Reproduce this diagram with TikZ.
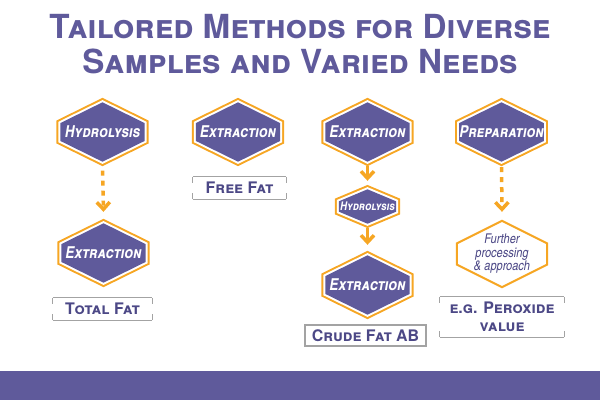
\documentclass[tikz,border=0pt]{standalone}
\usepackage{fontspec}
\setmainfont{TeX Gyre Heros}
\newfontfamily\cnfont{texgyreheroscn}[Extension=.otf, UprightFont=*-regular, BoldFont=*-bold, ItalicFont=*-italic, BoldItalicFont=*-bolditalic]
\usetikzlibrary{positioning,calc,arrows.meta,backgrounds}

\definecolor{methpurple}{HTML}{5F5A9B}
\definecolor{methorange}{HTML}{F6A623}
\definecolor{tagpurple}{HTML}{4C4886}
\definecolor{taggray}{HTML}{A3A3A3}

\begin{document}
\begin{tikzpicture}[x=1bp, y=-1bp]
	\useasboundingbox (0,0) rectangle (600,400);
	\fill[methpurple] (0,371) rectangle (600,400);
	\begin{scope}
		\tikzstyle{every node}=[align=center, inner sep=0pt]
		\tikzstyle{method}=[minimum width=84bp, minimum height=59bp, text=white, font=\cnfont\bfseries\itshape\scshape\fontsize{16.5}{16.5}\selectfont]
		\tikzstyle{tag}=[text=tagpurple, font=\bfseries\scshape\fontsize{16}{18}\selectfont]
		\tikzstyle{hexfill}=[fill=methpurple, preaction={draw=methorange, line width=8bp}, preaction={draw=white, line width=4bp}]
		\tikzstyle{hexline}=[fill=white, draw=methorange, line width=2bp]
		\tikzstyle{tagline}=[draw=taggray, line width=1.2bp]
		\tikzstyle{flow}=[methorange, line width=3.5bp, -{Straight Barb[length=7bp, width=13bp]}]

		% title
		\node[anchor=base, text=methpurple, font=\bfseries\scshape\fontsize{33.3}{33.3}\selectfont] (title1) at (300, 38) {Tailored Methods for Diverse};
		\node[anchor=base, text=methpurple, font=\bfseries\scshape\fontsize{33.3}{33.3}\selectfont] (title2) at (300, 73) {Samples and Varied Needs};

		% column 1
		\node[method] (hyd1) at (102.5, 132) {Hydrolysis};
		\node[method] (ext1) at (103.5, 253) {Extraction};
		\node[tag, minimum width=99bp, minimum height=22bp] (total) at (102.5, 309) {Total Fat};

		% column 2
		\node[method] (ext2) at (238, 132) {Extraction};
		\node[tag, minimum width=93bp, minimum height=22bp] (free) at (239.5, 188) {Free Fat};

		% column 3
		\node[method] (ext3) at (367.5, 132) {Extraction};
		\node[method, minimum width=57bp, minimum height=34bp, font=\cnfont\bfseries\itshape\scshape\fontsize{12}{12}\selectfont] (hyd3) at (367.5, 206.5) {Hydrolysis};
		\node[method] (ext4) at (367.5, 285) {Extraction};
		\node[tag, minimum width=121bp, minimum height=21bp, draw=taggray, line width=1.2bp] (crude) at (365.5, 335.5) {Crude Fat AB};

		% column 4
		\node[method] (prep) at (501.5, 132) {Preparation};
		\node[minimum width=90bp, minimum height=66bp, text=tagpurple, font=\cnfont\itshape\fontsize{13.5}{13.5}\selectfont] (further) at (502, 254) {Further\\processing\\\& approach};
		\node[tag, minimum width=124bp, minimum height=40bp] (perox) at (502, 317) {e.g. Peroxide\\value};

		% arrows
		\draw[flow, dash pattern=on 5bp off 5bp] ($(hyd1.south)+(0,9)$) to ($(ext1.north)+(0,-11.5)$);
		\draw[flow] ($(ext3.south)+(0,4)$) to ($(hyd3.north)+(0,-8.5)$);
		\draw[flow] ($(hyd3.south)+(0,4)$) to ($(ext4.north)+(0,-10.5)$);
		\draw[flow, dash pattern=on 5bp off 5bp] ($(prep.south)+(0,5.5)$) to ($(further.north)+(0,-9)$);

		% label frames
		\foreach \n in {total, free, perox} {
			\draw[tagline] (\n.north west) -- (\n.north east);
			\draw[tagline] (\n.south west) -- (\n.south east);
			\draw[tagline] (\n.north west) -- ++(0,6.5);
			\draw[tagline] (\n.north east) -- ++(0,6.5);
			\draw[tagline] (\n.south west) -- ++(0,-6.5);
			\draw[tagline] (\n.south east) -- ++(0,-6.5);
		}

		% hexagons behind the texts
		\begin{scope}[on background layer]
			\foreach \n in {hyd1, ext1, ext2, ext3, hyd3, ext4, prep}
				\path[hexfill] (\n.north) -- ($(\n.north east)!0.35!(\n.south east)$) -- ($(\n.north east)!0.65!(\n.south east)$) -- (\n.south) -- ($(\n.north west)!0.65!(\n.south west)$) -- ($(\n.north west)!0.35!(\n.south west)$) -- cycle;
			\path[hexline] (further.north) -- ($(further.north east)!0.34!(further.south east)$) -- ($(further.north east)!0.66!(further.south east)$) -- (further.south) -- ($(further.north west)!0.66!(further.south west)$) -- ($(further.north west)!0.34!(further.south west)$) -- cycle;
		\end{scope}
	\end{scope}
\end{tikzpicture}
\end{document}
